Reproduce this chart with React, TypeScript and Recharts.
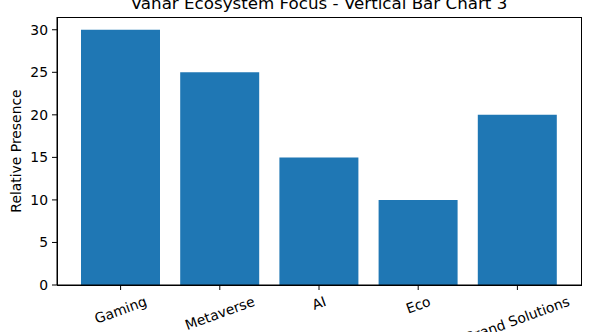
import React from "react";
import { Bar, BarChart, XAxis, YAxis } from "recharts";

const categories = ["Gaming", "Metaverse", "AI", "Eco", "Brand Solutions"];
const presence = [30, 25, 15, 10, 20];
const yTicks = [0, 5, 10, 15, 20, 25, 30];

const rows = categories.map((name, i) => ({ name, value: presence[i] }));

const FONT = "DejaVu Sans, sans-serif";
const FS = 13.9;
const ROT = 20;

// plot box, used for the matplotlib-style frame
const PLOT = { left: 57, top: 17, right: 581, bottom: 285 };

let ctx: CanvasRenderingContext2D | null = null;
function textWidth(s: string) {
  if (!ctx) ctx = document.createElement("canvas").getContext("2d");
  if (!ctx) return s.length * FS * 0.6;
  ctx.font = `${FS}px DejaVu Sans`;
  return ctx.measureText(s).width;
}

function RotatedTick(props: any) {
  const { x, payload } = props;
  const top = PLOT.bottom + 8;
  const w = textWidth(payload.value);
  const h = FS * 1.16;
  const rad = (ROT * Math.PI) / 180;
  const bh = w * Math.sin(rad) + h * Math.cos(rad);
  const cy = top + bh / 2;
  return (
    <text
      x={x}
      y={cy}
      textAnchor="middle"
      dominantBaseline="central"
      transform={`rotate(${-ROT} ${x} ${cy})`}
      fontFamily={FONT}
      fontSize={FS}
      fill="#000"
    >
      {payload.value}
    </text>
  );
}

export default function App() {
  return (
    <div style={{ position: "fixed", left: 0, top: 0, width: 590, height: 332, background: "#fff", overflow: "hidden" }}>
      <BarChart
        width={590}
        height={332}
        data={rows}
        margin={{ top: PLOT.top, right: 590 - PLOT.right, left: 0, bottom: 0 }}
        barSize={79}
      >
        <XAxis
          dataKey="name"
          height={332 - PLOT.bottom}
          padding={{ left: 14, right: 14 }}
          stroke="#000"
          tickSize={5}
          tick={<RotatedTick />}
          interval={0}
        />
        <YAxis
          domain={[0, 31.5]}
          ticks={yTicks}
          width={PLOT.left}
          stroke="#000"
          tickSize={5}
          tickMargin={4}
          tick={{ fill: "#000", fontFamily: FONT, fontSize: FS }}
        />
        <Bar dataKey="value" fill="#1f77b4" isAnimationActive={false} />
      </BarChart>
      <svg width={590} height={332} style={{ position: "absolute", left: 0, top: 0, pointerEvents: "none" }}>
        <rect
          x={PLOT.left}
          y={PLOT.top}
          width={PLOT.right - PLOT.left}
          height={PLOT.bottom - PLOT.top}
          fill="none"
          stroke="#000"
          strokeWidth={1}
          shapeRendering="crispEdges"
        />
        <text x={319} y={8.7} textAnchor="middle" fontFamily={FONT} fontSize={16.7} fill="#000">
          Vanar Ecosystem Focus - Vertical Bar Chart 3
        </text>
        <text
          x={16}
          y={151}
          textAnchor="middle"
          dominantBaseline="central"
          transform="rotate(-90 16 151)"
          fontFamily={FONT}
          fontSize={FS}
          fill="#000"
        >
          Relative Presence
        </text>
      </svg>
    </div>
  );
}
